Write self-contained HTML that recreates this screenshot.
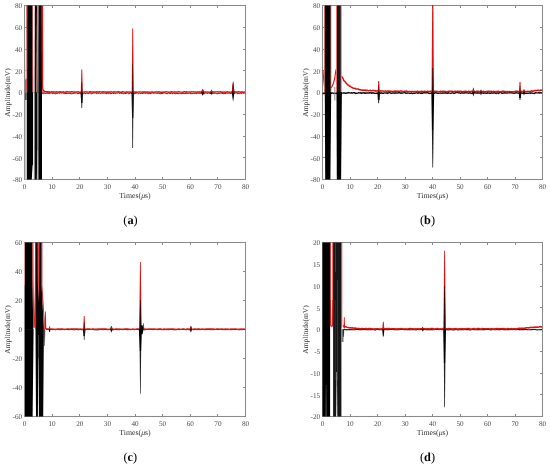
<!DOCTYPE html>
<html><head><meta charset="utf-8"><title>Figure</title>
<style>html,body{margin:0;padding:0;background:#fff;width:550px;height:467px;overflow:hidden}
svg{display:block;filter:blur(0.35px)}
text{font-family:'Liberation Serif', 'DejaVu Serif', serif;font-size:7.2px;fill:#333}
.t{fill:#4a4a4a}</style></head>
<body><svg width="550" height="467" viewBox="0 0 550 467" text-rendering="geometricPrecision">
<rect width="550" height="467" fill="#fff"/>
<defs>
<clipPath id="ca"><rect x="24" y="5" width="222" height="175"/></clipPath>
<clipPath id="cb"><rect x="322" y="5" width="221" height="175"/></clipPath>
<clipPath id="cc"><rect x="24" y="242" width="222" height="175"/></clipPath>
<clipPath id="cd"><rect x="322" y="242" width="221" height="175"/></clipPath>
</defs>
<rect x="24.5" y="5.5" width="221" height="174" fill="none" stroke="#8a8a8a" stroke-width="1.05"/>
<line x1="52.5" y1="179.5" x2="52.5" y2="177" stroke="#8a8a8a" stroke-width="1"/>
<line x1="52.5" y1="5.5" x2="52.5" y2="8" stroke="#8a8a8a" stroke-width="1"/>
<line x1="79.5" y1="179.5" x2="79.5" y2="177" stroke="#8a8a8a" stroke-width="1"/>
<line x1="79.5" y1="5.5" x2="79.5" y2="8" stroke="#8a8a8a" stroke-width="1"/>
<line x1="107.5" y1="179.5" x2="107.5" y2="177" stroke="#8a8a8a" stroke-width="1"/>
<line x1="107.5" y1="5.5" x2="107.5" y2="8" stroke="#8a8a8a" stroke-width="1"/>
<line x1="135.5" y1="179.5" x2="135.5" y2="177" stroke="#8a8a8a" stroke-width="1"/>
<line x1="135.5" y1="5.5" x2="135.5" y2="8" stroke="#8a8a8a" stroke-width="1"/>
<line x1="162.5" y1="179.5" x2="162.5" y2="177" stroke="#8a8a8a" stroke-width="1"/>
<line x1="162.5" y1="5.5" x2="162.5" y2="8" stroke="#8a8a8a" stroke-width="1"/>
<line x1="190.5" y1="179.5" x2="190.5" y2="177" stroke="#8a8a8a" stroke-width="1"/>
<line x1="190.5" y1="5.5" x2="190.5" y2="8" stroke="#8a8a8a" stroke-width="1"/>
<line x1="217.5" y1="179.5" x2="217.5" y2="177" stroke="#8a8a8a" stroke-width="1"/>
<line x1="217.5" y1="5.5" x2="217.5" y2="8" stroke="#8a8a8a" stroke-width="1"/>
<line x1="24.5" y1="27.5" x2="27" y2="27.5" stroke="#8a8a8a" stroke-width="1"/>
<line x1="245.5" y1="27.5" x2="243" y2="27.5" stroke="#8a8a8a" stroke-width="1"/>
<line x1="24.5" y1="49.5" x2="27" y2="49.5" stroke="#8a8a8a" stroke-width="1"/>
<line x1="245.5" y1="49.5" x2="243" y2="49.5" stroke="#8a8a8a" stroke-width="1"/>
<line x1="24.5" y1="70.5" x2="27" y2="70.5" stroke="#8a8a8a" stroke-width="1"/>
<line x1="245.5" y1="70.5" x2="243" y2="70.5" stroke="#8a8a8a" stroke-width="1"/>
<line x1="24.5" y1="92.5" x2="27" y2="92.5" stroke="#8a8a8a" stroke-width="1"/>
<line x1="245.5" y1="92.5" x2="243" y2="92.5" stroke="#8a8a8a" stroke-width="1"/>
<line x1="24.5" y1="114.5" x2="27" y2="114.5" stroke="#8a8a8a" stroke-width="1"/>
<line x1="245.5" y1="114.5" x2="243" y2="114.5" stroke="#8a8a8a" stroke-width="1"/>
<line x1="24.5" y1="136.5" x2="27" y2="136.5" stroke="#8a8a8a" stroke-width="1"/>
<line x1="245.5" y1="136.5" x2="243" y2="136.5" stroke="#8a8a8a" stroke-width="1"/>
<line x1="24.5" y1="157.5" x2="27" y2="157.5" stroke="#8a8a8a" stroke-width="1"/>
<line x1="245.5" y1="157.5" x2="243" y2="157.5" stroke="#8a8a8a" stroke-width="1"/>
<g clip-path="url(#ca)">
<polyline points="42,93.26 42.8,93.35 43.6,93.68 44.4,93.27 45.2,93.31 46,93.38 46.8,93.02 47.6,93.31 48.4,93.42 49.2,93.56 50,92.93 50.8,93.12 51.6,92.93 52.4,93.58 53.2,93.47 54,92.89 54.8,93.73 55.6,93.72 56.4,93.44 57.2,93.4 58,92.99 58.8,92.86 59.6,93.33 60.4,92.9 61.2,93.02 62,93.07 62.8,92.88 63.6,93.27 64.4,93.25 65.2,93.61 66,93.32 66.8,93.43 67.6,93.3 68.4,93.45 69.2,93.26 70,93.1 70.8,93.75 71.6,93.75 72.4,93.61 73.2,93.49 74,93.13 74.8,93.06 75.6,93.11 76.4,92.91 77.2,93.54 78,93.21 78.8,93.61 79.6,93.2 80.4,93.71 81.2,93.61 82,92.85 82.8,93.04 83.6,93.67 84.4,93.27 85.2,93.73 86,93.21 86.8,92.92 87.6,93.42 88.4,93.55 89.2,93.09 90,92.93 90.8,93.15 91.6,93.72 92.4,93.53 93.2,92.96 94,93.07 94.8,92.94 95.6,92.9 96.4,93.57 97.2,93.01 98,93.35 98.8,93.25 99.6,93.02 100.4,93.51 101.2,92.97 102,93.43 102.8,92.95 103.6,93.23 104.4,93.04 105.2,93.09 106,93.72 106.8,93.57 107.6,93.12 108.4,93.65 109.2,93.04 110,93.2 110.8,93.62 111.6,93.43 112.4,92.94 113.2,93.74 114,93.04 114.8,93.08 115.6,93.55 116.4,93.15 117.2,93.12 118,92.92 118.8,92.93 119.6,93.37 120.4,93.07 121.2,93.39 122,93.18 122.8,93.26 123.6,93.71 124.4,93.29 125.2,93.37 126,93.63 126.8,93.01 127.6,92.99 128.4,93.67 129.2,93.59 130,93.07 130.8,93.02 131.6,93.52 132.4,93.7 133.2,93.03 134,93.71 134.8,93.64 135.6,93.39 136.4,93.23 137.2,92.94 138,92.88 138.8,93.72 139.6,93.06 140.4,93.48 141.2,93.08 142,93.59 142.8,93.39 143.6,93.11 144.4,93.01 145.2,93.5 146,92.91 146.8,93.06 147.6,93.35 148.4,93.62 149.2,93.4 150,93.1 150.8,93.68 151.6,93.03 152.4,92.86 153.2,93.09 154,93.25 154.8,92.9 155.6,93.01 156.4,93.18 157.2,93.36 158,92.97 158.8,93.18 159.6,93.65 160.4,93.73 161.2,93.44 162,93.47 162.8,93.38 163.6,92.98 164.4,92.88 165.2,92.87 166,93.67 166.8,93.48 167.6,93.72 168.4,92.87 169.2,93.42 170,93.28 170.8,93.51 171.6,93.14 172.4,93.75 173.2,92.92 174,93.34 174.8,93.51 175.6,93.66 176.4,93.51 177.2,93.48 178,93.56 178.8,93.67 179.6,93.17 180.4,93.47 181.2,93.66 182,93.63 182.8,93.23 183.6,93.56 184.4,93.63 185.2,93.37 186,93.41 186.8,93.19 187.6,93.37 188.4,93.4 189.2,92.92 190,93.43 190.8,93.74 191.6,93.64 192.4,93.51 193.2,93.2 194,93.51 194.8,93.37 195.6,93.25 196.4,93.6 197.2,92.93 198,93.53 198.8,92.88 199.6,93.39 200.4,93.28 201.2,93.06 202,93.48 202.8,93.3 203.6,93.4 204.4,93.68 205.2,93.08 206,92.86 206.8,93.12 207.6,93.46 208.4,93.03 209.2,93 210,93.67 210.8,93.44 211.6,93.25 212.4,93.65 213.2,93.14 214,93.45 214.8,93.03 215.6,93.24 216.4,93.58 217.2,93.67 218,93.64 218.8,93.2 219.6,93.37 220.4,93.13 221.2,92.97 222,93.3 222.8,93.6 223.6,93.61 224.4,93.49 225.2,93.71 226,93.1 226.8,93 227.6,93.26 228.4,93.1 229.2,93.04 230,93.22 230.8,93.41 231.6,93.29 232.4,93.13 233.2,93.61 234,93.73 234.8,93.26 235.6,92.92 236.4,92.88 237.2,93.64 238,92.89 238.8,93.49 239.6,93.36 240.4,93.13 241.2,93.56 242,92.87 242.8,92.97 243.6,93.26 244.4,92.87 245.2,93.6" fill="none" stroke="#111" stroke-width="1.0" stroke-linejoin="round" opacity="1"/>
<polyline points="42,91.98 42.8,92.09 43.6,92.1 44.4,91.79 45.2,91.71 46,91.92 46.8,91.86 47.6,92.19 48.4,92.11 49.2,92.06 50,92.03 50.8,92.1 51.6,91.79 52.4,91.96 53.2,91.8 54,92.24 54.8,91.74 55.6,92.19 56.4,91.74 57.2,92.11 58,91.9 58.8,91.94 59.6,92.21 60.4,91.71 61.2,91.74 62,92.25 62.8,92.01 63.6,91.75 64.4,92.29 65.2,92.27 66,91.77 66.8,91.95 67.6,91.78 68.4,91.89 69.2,92.07 70,91.8 70.8,92.12 71.6,91.73 72.4,91.8 73.2,92.19 74,91.94 74.8,91.95 75.6,92.06 76.4,91.99 77.2,91.93 78,91.72 78.8,92.14 79.6,92.28 80.4,92.29 81.2,92.1 82,91.91 82.8,91.92 83.6,92.11 84.4,92.1 85.2,91.77 86,91.84 86.8,91.92 87.6,92.01 88.4,92.19 89.2,92 90,91.72 90.8,92.19 91.6,91.96 92.4,92.01 93.2,91.83 94,91.96 94.8,91.93 95.6,92.16 96.4,91.76 97.2,92.03 98,91.81 98.8,92.12 99.6,91.72 100.4,91.87 101.2,91.91 102,92.08 102.8,91.73 103.6,91.98 104.4,91.83 105.2,91.87 106,91.99 106.8,92.28 107.6,91.99 108.4,92.27 109.2,91.8 110,92.25 110.8,91.92 111.6,91.81 112.4,92.15 113.2,92.25 114,91.7 114.8,91.86 115.6,92.16 116.4,91.91 117.2,91.84 118,91.71 118.8,91.72 119.6,92.07 120.4,92.29 121.2,92.3 122,92 122.8,91.71 123.6,91.89 124.4,92.17 125.2,92.2 126,92.08 126.8,91.84 127.6,92.02 128.4,91.99 129.2,92.08 130,91.86 130.8,92.27 131.6,92.24 132.4,91.8 133.2,91.87 134,92.22 134.8,91.87 135.6,92.27 136.4,92.01 137.2,92.12 138,92.12 138.8,91.83 139.6,91.87 140.4,91.85 141.2,92.11 142,92.12 142.8,91.78 143.6,92.23 144.4,91.95 145.2,91.84 146,91.96 146.8,92.29 147.6,92.04 148.4,92.07 149.2,92.25 150,92.28 150.8,92.16 151.6,91.95 152.4,92.05 153.2,92.24 154,92.17 154.8,92.05 155.6,91.91 156.4,91.92 157.2,92.14 158,92.04 158.8,91.71 159.6,92.13 160.4,92.24 161.2,92.18 162,92.24 162.8,92.25 163.6,92.02 164.4,92.17 165.2,91.93 166,91.76 166.8,91.91 167.6,91.89 168.4,92.26 169.2,92.11 170,92.02 170.8,92.07 171.6,91.77 172.4,92.02 173.2,92.12 174,91.94 174.8,91.85 175.6,91.94 176.4,91.89 177.2,92.11 178,91.79 178.8,91.75 179.6,91.89 180.4,92.12 181.2,92.16 182,92.1 182.8,92.26 183.6,91.92 184.4,91.72 185.2,91.99 186,91.97 186.8,91.81 187.6,92.1 188.4,91.9 189.2,91.84 190,91.9 190.8,92.27 191.6,91.7 192.4,91.92 193.2,91.87 194,91.82 194.8,91.96 195.6,91.83 196.4,92.25 197.2,92 198,92.12 198.8,91.8 199.6,91.98 200.4,92.06 201.2,92.21 202,91.85 202.8,91.98 203.6,92.21 204.4,92.2 205.2,91.84 206,92.02 206.8,92.16 207.6,91.94 208.4,92.1 209.2,92.1 210,92.28 210.8,92.03 211.6,92.11 212.4,91.91 213.2,92.14 214,91.89 214.8,92 215.6,91.92 216.4,91.88 217.2,91.78 218,91.84 218.8,92.03 219.6,91.85 220.4,91.73 221.2,92.18 222,91.87 222.8,92.26 223.6,92.06 224.4,91.93 225.2,92.22 226,92.24 226.8,91.89 227.6,91.78 228.4,92.08 229.2,92.21 230,92.07 230.8,92.17 231.6,91.95 232.4,92.07 233.2,91.86 234,91.94 234.8,91.93 235.6,91.93 236.4,91.94 237.2,92.18 238,91.8 238.8,91.82 239.6,91.85 240.4,92.28 241.2,92.01 242,91.73 242.8,92.2 243.6,92.22 244.4,92.19 245.2,91.92" fill="none" stroke="#e01010" stroke-width="1.4" stroke-linejoin="round" opacity="1"/>
<polygon points="26.5,5.5 26.8,5.5 26.8,92.9 25,92.9" fill="#f6c0c0" opacity="1"/>
<polygon points="25,80 26.8,78 26.8,92.4 25,92.4" fill="#e02a2a" opacity="0.75"/>
<polygon points="26.5,5.5 27.4,5.5 27.3,92.9 26.8,92.9" fill="#b01010" opacity="1"/>
<polygon points="27.3,5.5 32.3,5.5 32.6,92.9 27.2,92.9" fill="#000" opacity="1"/>
<polygon points="32.3,5.5 32.9,5.5 33.3,92.9 32.6,92.9" fill="#a81010" opacity="1"/>
<polygon points="34.8,5.5 37,5.5 36.6,92.9 34.6,92.9" fill="#1e0404" opacity="1"/>
<polygon points="37,5.5 38.6,5.5 37.3,92.9 36.6,92.9" fill="#ec7a7a" opacity="1"/>
<polygon points="38.6,5.5 38.6,5.5 38.5,92.9 37.3,92.9" fill="#2a2a2a" opacity="1"/>
<polygon points="38.6,5.5 41.8,5.5 42,92.9 38.5,92.9" fill="#050a08" opacity="1"/>
<polygon points="41.8,5.5 42.4,5.5 42.6,92.9 42,92.9" fill="#a81010" opacity="1"/>
<polygon points="42.4,5.5 42.9,5.5 42.9,92.9 42.6,92.9" fill="#f6c8c8" opacity="1"/>
<rect x="24.9" y="92.4" width="2.1" height="87.1" fill="#c8c8c8" opacity="1"/>
<rect x="24.9" y="92.4" width="1.9" height="7.6" fill="#555" opacity="1"/>
<rect x="27" y="92.4" width="6.1" height="87.1" fill="#000" opacity="1"/>
<rect x="34.5" y="92.4" width="2.7" height="87.1" fill="#0a0a0a" opacity="1"/>
<rect x="37.2" y="92.4" width="1.4" height="87.1" fill="#707070" opacity="1"/>
<rect x="38.5" y="92.4" width="3.5" height="87.1" fill="#000" opacity="1"/>
<polygon points="32.6,165 33.2,165 33.2,179.5 31.8,179.5" fill="#fff"/>
<polygon points="37.4,150 38.0,150 38.2,179.5 36.8,179.5" fill="#bbb"/>
<polyline points="42.5,5.5 42.6,88 43.4,90.5 45,91.3 48,91.7 50,91.9" fill="none" stroke="#e01010" stroke-width="1.2" stroke-linejoin="round" opacity="1"/>
<polygon points="80.8,92.4 81.35,69.6 82.25,69.6 82.8,92.4" fill="#e01010" opacity="1"/>
<polygon points="81.1,92.9 81.5,82.14 82.1,82.14 82.5,92.9" fill="#300000" opacity="0.7"/>
<polygon points="80.6,92.4 81.15,103 82.45,103 83,92.4" fill="#000" opacity="1"/>
<polygon points="81.1,92.4 81.45,108.1 82.15,108.1 82.5,92.4" fill="#111" opacity="1"/>
<polygon points="131.7,92.4 132.25,28.6 133.15,28.6 133.7,92.4" fill="#e01010" opacity="1"/>
<polygon points="132,92.9 132.4,63.69 133,63.69 133.4,92.9" fill="#300000" opacity="0.7"/>
<polygon points="131.5,92.4 132.05,118 133.35,118 133.9,92.4" fill="#000" opacity="1"/>
<polygon points="132,92.4 132.35,148.1 133.05,148.1 133.4,92.4" fill="#111" opacity="1"/>
<polygon points="233.1,80.9 233.67,85.5 234.19,90.1 234.4,92.4 234.19,94.28 233.67,98.04 233.1,101.8 232.53,98.04 232.01,94.28 231.8,92.4 232.01,90.1 232.53,85.5" fill="#000" opacity="1"/>
<polygon points="233.1,80.9 233.58,84.7 234.02,88.5 234.2,90.4 234.02,91 233.58,92.2 233.1,93.4 232.62,92.2 232.18,91 232,90.4 232.18,88.5 232.62,84.7" fill="#e01010" opacity="1"/>
<polygon points="232.5,92.4 232.8,86 233.4,86 233.7,92.4" fill="#300000" opacity="0.8"/>
<polygon points="202.7,89 203.4,90.36 204.04,91.72 204.3,92.4 204.04,93.06 203.4,94.38 202.7,95.7 202,94.38 201.36,93.06 201.1,92.4 201.36,91.72 202,90.36" fill="#111" opacity="1"/>
<polygon points="202.7,89 203.32,89.96 203.88,90.92 204.1,91.4 203.88,91.6 203.32,92 202.7,92.4 202.08,92 201.52,91.6 201.3,91.4 201.52,90.92 202.08,89.96" fill="#e01010" opacity="1"/>
<polygon points="211.5,89.6 211.98,90.72 212.42,91.84 212.6,92.4 212.42,92.92 211.98,93.96 211.5,95 211.02,93.96 210.58,92.92 210.4,92.4 210.58,91.84 211.02,90.72" fill="#111" opacity="1"/>
<polygon points="211.5,89.6 211.9,90.32 212.26,91.04 212.4,91.4 212.26,91.6 211.9,92 211.5,92.4 211.1,92 210.74,91.6 210.6,91.4 210.74,91.04 211.1,90.32" fill="#e01010" opacity="1"/>
</g>
<text x="24.5" y="189.1" text-anchor="middle" class="t">0</text>
<text x="52.12" y="189.1" text-anchor="middle" class="t">10</text>
<text x="79.75" y="189.1" text-anchor="middle" class="t">20</text>
<text x="107.38" y="189.1" text-anchor="middle" class="t">30</text>
<text x="135" y="189.1" text-anchor="middle" class="t">40</text>
<text x="162.62" y="189.1" text-anchor="middle" class="t">50</text>
<text x="190.25" y="189.1" text-anchor="middle" class="t">60</text>
<text x="217.88" y="189.1" text-anchor="middle" class="t">70</text>
<text x="245.5" y="189.1" text-anchor="middle" class="t">80</text>
<text x="22.2" y="8.3" text-anchor="end" class="t">80</text>
<text x="22.2" y="30.05" text-anchor="end" class="t">60</text>
<text x="22.2" y="51.8" text-anchor="end" class="t">40</text>
<text x="22.2" y="73.55" text-anchor="end" class="t">20</text>
<text x="22.2" y="95.3" text-anchor="end" class="t">0</text>
<text x="22.2" y="117.05" text-anchor="end" class="t">-20</text>
<text x="22.2" y="138.8" text-anchor="end" class="t">-40</text>
<text x="22.2" y="160.55" text-anchor="end" class="t">-60</text>
<text x="22.2" y="182.3" text-anchor="end" class="t">-80</text>
<text x="135" y="198.1" text-anchor="middle" style="font-size:7.8px">Times(<tspan font-style="italic">μ</tspan>s)</text>
<text transform="translate(10.2,92.5) rotate(-90)" text-anchor="middle" style="font-size:7.5px">Amplitude(mV)</text>
<text x="130.5" y="224.1" text-anchor="middle" style="font-size:12.3px;fill:#000">(<tspan font-weight="bold">a</tspan>)</text>
<rect x="322.5" y="5.5" width="220" height="174" fill="none" stroke="#8a8a8a" stroke-width="1.05"/>
<line x1="350.5" y1="179.5" x2="350.5" y2="177" stroke="#8a8a8a" stroke-width="1"/>
<line x1="350.5" y1="5.5" x2="350.5" y2="8" stroke="#8a8a8a" stroke-width="1"/>
<line x1="377.5" y1="179.5" x2="377.5" y2="177" stroke="#8a8a8a" stroke-width="1"/>
<line x1="377.5" y1="5.5" x2="377.5" y2="8" stroke="#8a8a8a" stroke-width="1"/>
<line x1="405.5" y1="179.5" x2="405.5" y2="177" stroke="#8a8a8a" stroke-width="1"/>
<line x1="405.5" y1="5.5" x2="405.5" y2="8" stroke="#8a8a8a" stroke-width="1"/>
<line x1="432.5" y1="179.5" x2="432.5" y2="177" stroke="#8a8a8a" stroke-width="1"/>
<line x1="432.5" y1="5.5" x2="432.5" y2="8" stroke="#8a8a8a" stroke-width="1"/>
<line x1="460.5" y1="179.5" x2="460.5" y2="177" stroke="#8a8a8a" stroke-width="1"/>
<line x1="460.5" y1="5.5" x2="460.5" y2="8" stroke="#8a8a8a" stroke-width="1"/>
<line x1="487.5" y1="179.5" x2="487.5" y2="177" stroke="#8a8a8a" stroke-width="1"/>
<line x1="487.5" y1="5.5" x2="487.5" y2="8" stroke="#8a8a8a" stroke-width="1"/>
<line x1="515.5" y1="179.5" x2="515.5" y2="177" stroke="#8a8a8a" stroke-width="1"/>
<line x1="515.5" y1="5.5" x2="515.5" y2="8" stroke="#8a8a8a" stroke-width="1"/>
<line x1="322.5" y1="27.5" x2="325" y2="27.5" stroke="#8a8a8a" stroke-width="1"/>
<line x1="542.5" y1="27.5" x2="540" y2="27.5" stroke="#8a8a8a" stroke-width="1"/>
<line x1="322.5" y1="49.5" x2="325" y2="49.5" stroke="#8a8a8a" stroke-width="1"/>
<line x1="542.5" y1="49.5" x2="540" y2="49.5" stroke="#8a8a8a" stroke-width="1"/>
<line x1="322.5" y1="70.5" x2="325" y2="70.5" stroke="#8a8a8a" stroke-width="1"/>
<line x1="542.5" y1="70.5" x2="540" y2="70.5" stroke="#8a8a8a" stroke-width="1"/>
<line x1="322.5" y1="92.5" x2="325" y2="92.5" stroke="#8a8a8a" stroke-width="1"/>
<line x1="542.5" y1="92.5" x2="540" y2="92.5" stroke="#8a8a8a" stroke-width="1"/>
<line x1="322.5" y1="114.5" x2="325" y2="114.5" stroke="#8a8a8a" stroke-width="1"/>
<line x1="542.5" y1="114.5" x2="540" y2="114.5" stroke="#8a8a8a" stroke-width="1"/>
<line x1="322.5" y1="136.5" x2="325" y2="136.5" stroke="#8a8a8a" stroke-width="1"/>
<line x1="542.5" y1="136.5" x2="540" y2="136.5" stroke="#8a8a8a" stroke-width="1"/>
<line x1="322.5" y1="157.5" x2="325" y2="157.5" stroke="#8a8a8a" stroke-width="1"/>
<line x1="542.5" y1="157.5" x2="540" y2="157.5" stroke="#8a8a8a" stroke-width="1"/>
<g clip-path="url(#cb)">
<polyline points="341,92.7 341.8,93.17 342.6,93.12 343.4,92.98 344.2,92.74 345,93.26 345.8,93.28 346.6,93.01 347.4,93 348.2,92.76 349,92.55 349.8,92.88 350.6,93.08 351.4,92.61 352.2,93.26 353,92.76 353.8,92.76 354.6,92.59 355.4,93.45 356.2,93.21 357,93.34 357.8,93.1 358.6,92.58 359.4,92.85 360.2,93 361,92.65 361.8,93.41 362.6,92.88 363.4,92.69 364.2,93.29 365,92.66 365.8,93.39 366.6,92.96 367.4,93.05 368.2,92.86 369,92.99 369.8,92.72 370.6,92.58 371.4,93.33 372.2,92.76 373,93.25 373.8,92.74 374.6,93.42 375.4,93.35 376.2,93.23 377,93.24 377.8,93.07 378.6,93.21 379.4,92.66 380.2,92.98 381,93.29 381.8,92.73 382.6,93.38 383.4,93.35 384.2,92.92 385,92.88 385.8,92.96 386.6,92.9 387.4,93.45 388.2,92.9 389,92.57 389.8,92.63 390.6,93.2 391.4,93.44 392.2,93 393,92.99 393.8,93.05 394.6,93.22 395.4,92.75 396.2,93.1 397,93.05 397.8,93.11 398.6,92.71 399.4,92.7 400.2,92.86 401,93.38 401.8,92.86 402.6,93.09 403.4,92.83 404.2,92.64 405,92.61 405.8,93.28 406.6,93.25 407.4,92.89 408.2,93.17 409,93.16 409.8,93.36 410.6,93.41 411.4,92.92 412.2,93.44 413,93.42 413.8,93.08 414.6,93.34 415.4,92.99 416.2,92.89 417,92.77 417.8,93.34 418.6,92.7 419.4,92.61 420.2,93.27 421,93.25 421.8,92.98 422.6,93.3 423.4,92.6 424.2,92.78 425,92.81 425.8,92.93 426.6,92.7 427.4,92.61 428.2,92.85 429,93.36 429.8,93.44 430.6,93.22 431.4,92.98 432.2,92.78 433,93.41 433.8,93.02 434.6,93.21 435.4,92.58 436.2,92.74 437,93.3 437.8,93.27 438.6,93.34 439.4,93.09 440.2,92.93 441,93.07 441.8,93.31 442.6,92.83 443.4,93.03 444.2,92.8 445,93.24 445.8,92.56 446.6,93.17 447.4,93.41 448.2,92.57 449,93.08 449.8,93.13 450.6,93.32 451.4,93.08 452.2,92.78 453,92.92 453.8,93.41 454.6,93.37 455.4,92.67 456.2,92.64 457,92.63 457.8,92.57 458.6,92.95 459.4,92.68 460.2,93.33 461,93.14 461.8,92.66 462.6,93.03 463.4,92.84 464.2,92.99 465,92.75 465.8,92.7 466.6,92.72 467.4,92.89 468.2,93.19 469,93.05 469.8,92.59 470.6,93.19 471.4,93.34 472.2,93.25 473,93.26 473.8,92.56 474.6,92.97 475.4,92.61 476.2,93.24 477,92.71 477.8,93.19 478.6,92.78 479.4,93.18 480.2,92.83 481,92.59 481.8,92.9 482.6,92.83 483.4,93.36 484.2,92.82 485,93 485.8,93.04 486.6,93.4 487.4,92.64 488.2,93.09 489,93.01 489.8,93.21 490.6,93.42 491.4,92.83 492.2,93.18 493,93.02 493.8,93.05 494.6,92.61 495.4,93.28 496.2,93.43 497,92.87 497.8,92.84 498.6,93.44 499.4,92.65 500.2,92.62 501,92.62 501.8,93.28 502.6,93.23 503.4,92.95 504.2,93.11 505,92.57 505.8,93.13 506.6,92.95 507.4,93.02 508.2,92.9 509,92.91 509.8,92.75 510.6,92.59 511.4,92.94 512.2,92.77 513,93.18 513.8,93.29 514.6,93.2 515.4,92.96 516.2,92.76 517,92.9 517.8,92.99 518.6,93.12 519.4,93.42 520.2,92.63 521,92.98 521.8,92.99 522.6,93.2 523.4,93.35 524.2,93.25 525,93.11 525.8,93.23 526.6,93.15 527.4,93.32 528.2,93.18 529,93.16 529.8,92.77 530.6,93.38 531.4,92.9 532.2,93.1 533,93.29 533.8,93.42 534.6,93.44 535.4,92.56 536.2,92.83 537,92.83 537.8,92.9 538.6,92.68 539.4,93.05 540.2,92.62 541,92.82 541.8,93.4" fill="none" stroke="#111" stroke-width="1.4" stroke-linejoin="round" opacity="1"/>
<polyline points="341.5,76.32 342.3,77.38 343.1,78.74 343.9,80.7 344.7,81.26 345.5,82.21 346.3,83.46 347.1,84.03 347.9,85.1 348.7,85.26 349.5,86.31 350.3,86.35 351.1,86.98 351.9,87.6 352.7,87.77 353.5,88.25 354.3,88.38 355.1,88.17 355.9,88.97 356.7,88.97 357.5,88.96 358.3,89.04 359.1,89.65 359.9,89.6 360.7,89.98 361.5,89.98 362.3,90.21 363.1,90.03 363.9,90.21 364.7,90.23 365.5,90.06 366.3,90.61 367.1,90.23 367.9,90.61 368.7,90.79 369.5,90.63 370.3,90.32 371.1,90.84 371.9,90.78 372.7,90.48 373.5,90.42 374.3,90.79 375.1,90.48 375.9,91.13 376.7,90.87 377.5,90.9 378.3,90.85 379.1,91.06 379.9,91.26 380.7,90.85 381.5,90.92 382.3,91.09 383.1,90.91 383.9,91.14 384.7,91.12 385.5,91.06 386.3,91.24 387.1,91.16 387.9,90.86 388.7,91.51 389.5,91.08 390.3,91.14 391.1,91.14 391.9,91.52 392.7,91.54 393.5,91.25 394.3,91.18 395.1,90.98 395.9,91.54 396.7,91.05 397.5,91.32 398.3,91.19 399.1,91.18 399.9,91.21 400.7,91.1 401.5,91 402.3,91.36 403.1,91.55 403.9,91.45 404.7,91.14 405.5,91.49 406.3,91.05 407.1,91.31 407.9,91.6 408.7,91.67 409.5,91.36 410.3,91.63 411.1,91.39 411.9,91.41 412.7,91.46 413.5,91.75 414.3,91.58 415.1,91.39 415.9,91.57 416.7,91.52 417.5,91.32 418.3,91.62 419.1,91.65 419.9,91.51 420.7,91.81 421.5,91.16 422.3,91.5 423.1,91.59 423.9,91.39 424.7,91.27 425.5,91.63 426.3,91.45 427.1,91.34 427.9,91.18 428.7,91.83 429.5,91.4 430.3,91.23 431.1,91.3 431.9,91.33 432.7,91.76 433.5,91.28 434.3,91.34 435.1,91.22 435.9,91.48 436.7,91.3 437.5,91.39 438.3,91.66 439.1,91.8 439.9,91.73 440.7,91.18 441.5,91.41 442.3,91.74 443.1,91.17 443.9,91.29 444.7,91.49 445.5,91.42 446.3,91.68 447.1,91.65 447.9,91.48 448.7,91.32 449.5,91.31 450.3,91.34 451.1,91.2 451.9,91.62 452.7,91.26 453.5,91.77 454.3,91.6 455.1,91.19 455.9,91.5 456.7,91.57 457.5,91.18 458.3,91.49 459.1,91.17 459.9,91.69 460.7,91.15 461.5,91.59 462.3,91.84 463.1,91.74 463.9,91.31 464.7,91.52 465.5,91.25 466.3,91.39 467.1,91.75 467.9,91.72 468.7,91.16 469.5,91.42 470.3,91.6 471.1,91.27 471.9,91.71 472.7,91.78 473.5,91.54 474.3,91.4 475.1,91.74 475.9,91.51 476.7,91.28 477.5,91.34 478.3,91.26 479.1,91.74 479.9,91.51 480.7,91.64 481.5,91.72 482.3,91.83 483.1,91.28 483.9,91.43 484.7,91.76 485.5,91.68 486.3,91.42 487.1,91.61 487.9,91.29 488.7,91.26 489.5,91.19 490.3,91.42 491.1,91.32 491.9,91.51 492.7,91.83 493.5,91.26 494.3,91.54 495.1,91.76 495.9,91.57 496.7,91.52 497.5,91.69 498.3,91.17 499.1,91.81 499.9,91.63 500.7,91.71 501.5,91.73 502.3,91.22 503.1,91.2 503.9,91.27 504.7,91.5 505.5,91.81 506.3,91.79 507.1,91.44 507.9,91.59 508.7,91.67 509.5,91.38 510.3,91.83 511.1,91.81 511.9,91.66 512.7,91.78 513.5,91.71 514.3,91.61 515.1,91.37 515.9,91.35 516.7,91.32 517.5,91.19 518.3,91.8 519.1,91.36 519.9,91.17 520.7,91.37 521.5,91.22 522.3,91.46 523.1,91.38 523.9,91.27 524.7,91.48 525.5,91.44 526.3,91.4 527.1,91.71 527.9,91.28 528.7,91.38 529.5,91.54 530.3,91.52 531.1,91.04 531.9,90.74 532.7,91.3 533.5,90.92 534.3,90.65 535.1,90.51 535.9,90.52 536.7,90.49 537.5,90.3 538.3,90.17 539.1,90.76 539.9,90.56 540.7,90 541.5,90.18 542.3,90.33" fill="none" stroke="#e01010" stroke-width="1.5" stroke-linejoin="round" opacity="1"/>
<polyline points="322.5,93.64 323.3,93.66 324.1,93.61 324.9,92.97 325.7,93.37 326.5,93.24 327.3,93.32 328.1,93 328.9,93.05 329.7,93.26 330.5,93.08 331.3,93.26 332.1,92.92 332.9,92.97 333.7,93.47 334.5,93.24 335.3,93.31 336.1,93.49 336.9,93.19 337.7,92.95 338.5,93.53 339.3,93.37 340.1,93.43 340.9,93.4" fill="none" stroke="#111" stroke-width="1.4" stroke-linejoin="round" opacity="1"/>
<polyline points="323,70 323.3,74 323.7,80 324.3,86 325,89" fill="none" stroke="#e02020" stroke-width="1.0" stroke-linejoin="round" opacity="1"/>
<polyline points="330.8,88 332,86.5 333.5,83 334.8,78 335.6,72 336.2,69" fill="none" stroke="#e01010" stroke-width="1.1" stroke-linejoin="round" opacity="1"/>
<rect x="334.2" y="87" width="1.2" height="13.5" fill="#8a8a8a" opacity="0.8"/>
<rect x="324" y="5.5" width="1" height="86.9" fill="#e47070" opacity="1"/>
<rect x="324.9" y="5.5" width="5.8" height="86.9" fill="#000" opacity="1"/>
<rect x="330.7" y="5.5" width="0.5" height="86.9" fill="#990000" opacity="1"/>
<rect x="336" y="5.5" width="1" height="86.9" fill="#e47070" opacity="1"/>
<rect x="337" y="5.5" width="3.8" height="86.9" fill="#161616" opacity="1"/>
<rect x="340.8" y="5.5" width="0.7" height="86.9" fill="#990000" opacity="1"/>
<rect x="341.5" y="5.5" width="0.5" height="86.9" fill="#f4c0c0" opacity="1"/>
<polygon points="324.8,92.1 331.2,92.1 330.4,179.5 325.2,179.5" fill="#000"/>
<polygon points="336.5,92.1 341.9,92.1 341.1,179.5 336.8,179.5" fill="#000"/>
<polygon points="377.7,92.4 378.2,80.9 379.2,80.9 379.7,92.4" fill="#e01010" opacity="1"/>
<polygon points="378.1,92.9 378.4,85.5 379,85.5 379.3,92.9" fill="#300000" opacity="0.6"/>
<polygon points="377.4,92.4 377.9,100 379.5,100 380,92.4" fill="#000" opacity="1"/>
<polygon points="377.9,92.4 378.3,103.3 379.1,103.3 379.5,92.4" fill="#111" opacity="1"/>
<polygon points="519,92.4 519.5,82 520.5,82 521,92.4" fill="#e01010" opacity="1"/>
<polygon points="519.4,92.9 519.7,86.16 520.3,86.16 520.6,92.9" fill="#300000" opacity="0.6"/>
<polygon points="518.7,92.4 519.2,98 520.8,98 521.3,92.4" fill="#000" opacity="1"/>
<polygon points="519.2,92.4 519.6,100 520.4,100 520.8,92.4" fill="#111" opacity="1"/>
<polygon points="431.55,92.4 432.15,4 433.35,4 433.95,92.4" fill="#e01010" opacity="1"/>
<polygon points="431.95,92.9 432.4,68 433.1,68 433.55,92.9" fill="#1a0000" opacity="0.8"/>
<polygon points="431.35,92.4 431.9,130 433.6,130 434.15,92.4" fill="#000" opacity="1"/>
<polygon points="431.9,130 432.4,167.6 433.1,167.6 433.6,130" fill="#1a1a1a" opacity="1"/>
<polygon points="473.4,87.4 473.93,89.4 474.41,91.4 474.6,92.4 474.41,93.2 473.93,94.8 473.4,96.4 472.87,94.8 472.39,93.2 472.2,92.4 472.39,91.4 472.87,89.4" fill="#111" opacity="1"/>
<polygon points="473.4,87.4 473.84,88.8 474.24,90.2 474.4,90.9 474.24,91.2 473.84,91.8 473.4,92.4 472.96,91.8 472.56,91.2 472.4,90.9 472.56,90.2 472.96,88.8" fill="#e01010" opacity="1"/>
<polygon points="481,89.4 481.44,90.6 481.84,91.8 482,92.4 481.84,93 481.44,94.2 481,95.4 480.56,94.2 480.16,93 480,92.4 480.16,91.8 480.56,90.6" fill="#111" opacity="1"/>
<polygon points="481,89.4 481.4,90.2 481.76,91 481.9,91.4 481.76,91.6 481.4,92 481,92.4 480.6,92 480.24,91.6 480.1,91.4 480.24,91 480.6,90.2" fill="#e01010" opacity="1"/>
<polygon points="524,88.9 524.44,90.3 524.84,91.7 525,92.4 524.84,93 524.44,94.2 524,95.4 523.56,94.2 523.16,93 523,92.4 523.16,91.7 523.56,90.3" fill="#111" opacity="1"/>
<polygon points="524,88.9 524.4,89.9 524.76,90.9 524.9,91.4 524.76,91.6 524.4,92 524,92.4 523.6,92 523.24,91.6 523.1,91.4 523.24,90.9 523.6,89.9" fill="#e01010" opacity="1"/>
</g>
<text x="322.5" y="189.1" text-anchor="middle" class="t">0</text>
<text x="350" y="189.1" text-anchor="middle" class="t">10</text>
<text x="377.5" y="189.1" text-anchor="middle" class="t">20</text>
<text x="405" y="189.1" text-anchor="middle" class="t">30</text>
<text x="432.5" y="189.1" text-anchor="middle" class="t">40</text>
<text x="460" y="189.1" text-anchor="middle" class="t">50</text>
<text x="487.5" y="189.1" text-anchor="middle" class="t">60</text>
<text x="515" y="189.1" text-anchor="middle" class="t">70</text>
<text x="542.5" y="189.1" text-anchor="middle" class="t">80</text>
<text x="320.2" y="8.3" text-anchor="end" class="t">80</text>
<text x="320.2" y="30.05" text-anchor="end" class="t">60</text>
<text x="320.2" y="51.8" text-anchor="end" class="t">40</text>
<text x="320.2" y="73.55" text-anchor="end" class="t">20</text>
<text x="320.2" y="95.3" text-anchor="end" class="t">0</text>
<text x="320.2" y="117.05" text-anchor="end" class="t">-20</text>
<text x="320.2" y="138.8" text-anchor="end" class="t">-40</text>
<text x="320.2" y="160.55" text-anchor="end" class="t">-60</text>
<text x="320.2" y="182.3" text-anchor="end" class="t">-80</text>
<text x="432.5" y="198.1" text-anchor="middle" style="font-size:7.8px">Times(<tspan font-style="italic">μ</tspan>s)</text>
<text transform="translate(308.2,92.5) rotate(-90)" text-anchor="middle" style="font-size:7.5px">Amplitude(mV)</text>
<text x="427.5" y="224.1" text-anchor="middle" style="font-size:12.3px;fill:#000">(<tspan font-weight="bold">b</tspan>)</text>
<rect x="24.5" y="242.5" width="221" height="174" fill="none" stroke="#8a8a8a" stroke-width="1.05"/>
<line x1="52.5" y1="416.5" x2="52.5" y2="414" stroke="#8a8a8a" stroke-width="1"/>
<line x1="52.5" y1="242.5" x2="52.5" y2="245" stroke="#8a8a8a" stroke-width="1"/>
<line x1="79.5" y1="416.5" x2="79.5" y2="414" stroke="#8a8a8a" stroke-width="1"/>
<line x1="79.5" y1="242.5" x2="79.5" y2="245" stroke="#8a8a8a" stroke-width="1"/>
<line x1="107.5" y1="416.5" x2="107.5" y2="414" stroke="#8a8a8a" stroke-width="1"/>
<line x1="107.5" y1="242.5" x2="107.5" y2="245" stroke="#8a8a8a" stroke-width="1"/>
<line x1="135.5" y1="416.5" x2="135.5" y2="414" stroke="#8a8a8a" stroke-width="1"/>
<line x1="135.5" y1="242.5" x2="135.5" y2="245" stroke="#8a8a8a" stroke-width="1"/>
<line x1="162.5" y1="416.5" x2="162.5" y2="414" stroke="#8a8a8a" stroke-width="1"/>
<line x1="162.5" y1="242.5" x2="162.5" y2="245" stroke="#8a8a8a" stroke-width="1"/>
<line x1="190.5" y1="416.5" x2="190.5" y2="414" stroke="#8a8a8a" stroke-width="1"/>
<line x1="190.5" y1="242.5" x2="190.5" y2="245" stroke="#8a8a8a" stroke-width="1"/>
<line x1="217.5" y1="416.5" x2="217.5" y2="414" stroke="#8a8a8a" stroke-width="1"/>
<line x1="217.5" y1="242.5" x2="217.5" y2="245" stroke="#8a8a8a" stroke-width="1"/>
<line x1="24.5" y1="271.5" x2="27" y2="271.5" stroke="#8a8a8a" stroke-width="1"/>
<line x1="245.5" y1="271.5" x2="243" y2="271.5" stroke="#8a8a8a" stroke-width="1"/>
<line x1="24.5" y1="300.5" x2="27" y2="300.5" stroke="#8a8a8a" stroke-width="1"/>
<line x1="245.5" y1="300.5" x2="243" y2="300.5" stroke="#8a8a8a" stroke-width="1"/>
<line x1="24.5" y1="329.5" x2="27" y2="329.5" stroke="#8a8a8a" stroke-width="1"/>
<line x1="245.5" y1="329.5" x2="243" y2="329.5" stroke="#8a8a8a" stroke-width="1"/>
<line x1="24.5" y1="358.5" x2="27" y2="358.5" stroke="#8a8a8a" stroke-width="1"/>
<line x1="245.5" y1="358.5" x2="243" y2="358.5" stroke="#8a8a8a" stroke-width="1"/>
<line x1="24.5" y1="387.5" x2="27" y2="387.5" stroke="#8a8a8a" stroke-width="1"/>
<line x1="245.5" y1="387.5" x2="243" y2="387.5" stroke="#8a8a8a" stroke-width="1"/>
<g clip-path="url(#cc)">
<polyline points="46,329.36 47,329.41 48,329.55 49,329.69 50,329.42 51,329.41 52,329.47 53,329.73 54,329.42 55,329.72 56,329.68 57,329.42 58,329.62 59,329.57 60,329.56 61,329.85 62,329.4 63,329.36 64,329.82 65,329.55 66,329.45 67,329.52 68,329.53 69,329.83 70,329.46 71,329.46 72,329.64 73,329.62 74,329.83 75,329.77 76,329.53 77,329.45 78,329.77 79,329.84 80,329.37 81,329.72 82,329.78 83,329.68 84,329.46 85,329.75 86,329.71 87,329.45 88,329.67 89,329.46 90,329.37 91,329.52 92,329.52 93,329.55 94,329.67 95,329.77 96,329.83 97,329.84 98,329.85 99,329.74 100,329.5 101,329.44 102,329.66 103,329.62 104,329.69 105,329.4 106,329.45 107,329.81 108,329.65 109,329.7 110,329.4 111,329.55 112,329.81 113,329.67 114,329.85 115,329.45 116,329.58 117,329.75 118,329.57 119,329.74 120,329.63 121,329.41 122,329.4 123,329.84 124,329.41 125,329.45 126,329.52 127,329.71 128,329.78 129,329.59 130,329.6 131,329.74 132,329.49 133,329.54 134,329.66 135,329.67 136,329.37 137,329.41 138,329.42 139,329.71 140,329.7 141,329.84 142,329.73 143,329.48 144,329.73 145,329.84 146,329.52 147,329.36 148,329.54 149,329.49 150,329.44 151,329.37 152,329.41 153,329.78 154,329.37 155,329.66 156,329.45 157,329.45 158,329.76 159,329.5 160,329.44 161,329.58 162,329.7 163,329.61 164,329.78 165,329.55 166,329.61 167,329.71 168,329.58 169,329.71 170,329.58 171,329.42 172,329.41 173,329.74 174,329.72 175,329.82 176,329.7 177,329.64 178,329.43 179,329.78 180,329.41 181,329.56 182,329.42 183,329.54 184,329.5 185,329.56 186,329.71 187,329.62 188,329.47 189,329.74 190,329.72 191,329.76 192,329.37 193,329.66 194,329.8 195,329.48 196,329.45 197,329.76 198,329.53 199,329.55 200,329.76 201,329.54 202,329.45 203,329.46 204,329.52 205,329.7 206,329.53 207,329.74 208,329.38 209,329.47 210,329.66 211,329.59 212,329.6 213,329.82 214,329.49 215,329.44 216,329.37 217,329.59 218,329.5 219,329.59 220,329.35 221,329.35 222,329.54 223,329.73 224,329.5 225,329.81 226,329.64 227,329.55 228,329.74 229,329.47 230,329.65 231,329.77 232,329.62 233,329.51 234,329.4 235,329.64 236,329.44 237,329.54 238,329.62 239,329.82 240,329.69 241,329.61 242,329.78 243,329.5 244,329.54 245,329.69" fill="none" stroke="#222" stroke-width="1.0" stroke-linejoin="round" opacity="1"/>
<polyline points="46,328.89 47,328.96 48,329 49,329.3 50,329.1 51,329.21 52,328.9 53,329.1 54,329.27 55,329.11 56,329.32 57,329.29 58,329.04 59,328.85 60,329.23 61,328.91 62,328.85 63,329.22 64,329.27 65,329.27 66,329.33 67,328.95 68,328.89 69,328.91 70,329.34 71,328.91 72,328.93 73,328.86 74,328.87 75,328.87 76,329.03 77,328.93 78,329 79,329.31 80,328.93 81,329.26 82,329.22 83,329.13 84,329.14 85,329.24 86,329.14 87,328.96 88,329.01 89,328.97 90,329.05 91,329.34 92,329.06 93,328.88 94,329.09 95,329.26 96,329.07 97,329.2 98,328.9 99,328.88 100,329.18 101,328.87 102,329 103,329.04 104,328.95 105,328.87 106,328.85 107,329.33 108,329.19 109,329.33 110,329.1 111,329.33 112,329.28 113,329.16 114,329.11 115,329.1 116,328.96 117,329.04 118,329.21 119,328.95 120,329.27 121,329.1 122,329.15 123,329.26 124,329.17 125,328.92 126,328.97 127,328.85 128,328.86 129,329.33 130,329.15 131,329.33 132,329.24 133,329.01 134,329.33 135,329.31 136,329.08 137,328.89 138,329.01 139,328.93 140,329.03 141,328.89 142,329.21 143,329.34 144,328.96 145,329.24 146,329.14 147,329.09 148,329.3 149,329.04 150,329.26 151,328.87 152,329.33 153,328.94 154,328.85 155,329.29 156,329.21 157,329.19 158,329.23 159,329.04 160,328.91 161,329.01 162,329.33 163,329.34 164,328.97 165,329.07 166,329.08 167,329.3 168,328.85 169,329.26 170,328.98 171,329.12 172,328.91 173,328.89 174,329.29 175,329.1 176,329.34 177,329.28 178,329.23 179,328.89 180,329.14 181,329.35 182,329.1 183,328.88 184,328.94 185,329.34 186,329.34 187,328.97 188,329.01 189,329.21 190,329.1 191,328.94 192,329.34 193,329.16 194,329.03 195,328.86 196,329.11 197,329.23 198,328.94 199,328.89 200,329.21 201,329.31 202,329.04 203,329.09 204,329.17 205,329.11 206,328.91 207,328.99 208,328.95 209,328.95 210,328.89 211,329.05 212,328.96 213,329.27 214,329.01 215,329.33 216,329.26 217,328.98 218,328.93 219,329.14 220,329.09 221,329.12 222,328.91 223,329.12 224,329.23 225,329.07 226,328.98 227,329.31 228,329 229,329.35 230,329.19 231,328.85 232,329.07 233,328.92 234,329.24 235,329.06 236,328.89 237,329.33 238,329.25 239,329.15 240,329.13 241,328.89 242,329.34 243,329 244,329.11 245,329.1" fill="none" stroke="#d41818" stroke-width="1.4" stroke-linejoin="round" opacity="1"/>
<rect x="24.3" y="242.5" width="0.7" height="42.5" fill="#f0a0a0" opacity="1"/>
<polygon points="25,242.5 32.4,242.5 32.5,280 33.3,329.8 25,329.8" fill="#000"/>
<polygon points="25,329.2 33.6,329.2 32.6,416.5 25,416.5" fill="#000"/>
<polygon points="35.5,242.5 36.3,242.5 37.5,242.5 39.5,242.5 41.6,242.5 41.6,285 43.9,329.2 43.2,416.5 36,416.5 35.5,329.2" fill="#050505"/>
<polygon points="37.5,242.5 39.5,242.5 39.3,282 38.4,303 37.7,282" fill="#e04040"/>
<polyline points="41.9,242.5 41.9,285 44.1,320 44.1,329.2" fill="none" stroke="#c01010" stroke-width="0.9"/>
<polyline points="35.7,242.5 35.7,329.2" fill="none" stroke="#a00000" stroke-width="0.7"/>
<polygon points="38.3,358 38.7,358 38.9,416.5 37.9,416.5" fill="#fff"/>
<rect x="38" y="335" width="0.9" height="23" fill="#444" opacity="1"/>
<polyline points="32.95,242.5 33.05,280 33.75,327.5 34.3,327.5 35.3,290 35.6,242.5" fill="none" stroke="#e01010" stroke-width="0.9" stroke-linejoin="round" opacity="1"/>
<polygon points="44.5,329.2 45,311.6 45.8,311.6 46.3,329.2" fill="#e01010" opacity="1"/>
<polygon points="43.9,329.2 44.3,346 44.9,346 45.3,329.2" fill="#555" opacity="1"/>
<polygon points="43.1,329.2 43.4,338 44.2,338 44.5,329.2" fill="#333" opacity="1"/>
<polygon points="48.8,329.2 49.2,326.3 50,326.3 50.4,329.2" fill="#e01010" opacity="1"/>
<polygon points="48.8,329.2 49.2,332 50,332 50.4,329.2" fill="#000" opacity="1"/>
<polygon points="83.2,329.2 83.8,316 84.6,316 85.2,329.2" fill="#d81010" opacity="1"/>
<polygon points="83.6,329.7 83.9,322.6 84.5,322.6 84.8,329.7" fill="#300000" opacity="0.7"/>
<polygon points="82.9,329.2 83.5,336 84.9,336 85.5,329.2" fill="#000" opacity="1"/>
<polygon points="83.5,329.2 83.9,340 84.5,340 84.9,329.2" fill="#222" opacity="1"/>
<polygon points="139.2,329.2 140,262 140.8,262 141.6,329.2" fill="#d81010" opacity="1"/>
<polygon points="139.5,329.7 140.1,300 140.7,300 141.3,329.7" fill="#1a0000" opacity="0.85"/>
<polygon points="138.9,329.2 139.6,351 141.2,351 141.9,329.2" fill="#000" opacity="1"/>
<polygon points="139.65,351 140.1,393.8 140.7,393.8 141.15,351" fill="#222" opacity="1"/>
<polygon points="142.7,329.2 143.2,323.2 143.8,323.2 144.3,329.2" fill="#d01010" opacity="1"/>
<polygon points="140.05,329.2 141.05,325.2 142.55,325.2 143.55,329.2" fill="#000" opacity="1"/>
<polygon points="140.05,329.2 141.05,334.2 142.55,334.2 143.55,329.2" fill="#000" opacity="1"/>
<polygon points="111.4,325.7 111.93,327.1 112.41,328.5 112.6,329.2 112.41,329.9 111.93,331.3 111.4,332.7 110.87,331.3 110.39,329.9 110.2,329.2 110.39,328.5 110.87,327.1" fill="#111" opacity="1"/>
<polygon points="111.4,325.7 111.84,326.7 112.24,327.7 112.4,328.2 112.24,328.4 111.84,328.8 111.4,329.2 110.96,328.8 110.56,328.4 110.4,328.2 110.56,327.7 110.96,326.7" fill="#d01010" opacity="1"/>
<polygon points="190.9,325.7 191.43,327.1 191.91,328.5 192.1,329.2 191.91,329.9 191.43,331.3 190.9,332.7 190.37,331.3 189.89,329.9 189.7,329.2 189.89,328.5 190.37,327.1" fill="#111" opacity="1"/>
<polygon points="190.9,325.7 191.34,326.7 191.74,327.7 191.9,328.2 191.74,328.4 191.34,328.8 190.9,329.2 190.46,328.8 190.06,328.4 189.9,328.2 190.06,327.7 190.46,326.7" fill="#d01010" opacity="1"/>
</g>
<text x="24.5" y="426.1" text-anchor="middle" class="t">0</text>
<text x="52.12" y="426.1" text-anchor="middle" class="t">10</text>
<text x="79.75" y="426.1" text-anchor="middle" class="t">20</text>
<text x="107.38" y="426.1" text-anchor="middle" class="t">30</text>
<text x="135" y="426.1" text-anchor="middle" class="t">40</text>
<text x="162.62" y="426.1" text-anchor="middle" class="t">50</text>
<text x="190.25" y="426.1" text-anchor="middle" class="t">60</text>
<text x="217.88" y="426.1" text-anchor="middle" class="t">70</text>
<text x="245.5" y="426.1" text-anchor="middle" class="t">80</text>
<text x="22.2" y="245.3" text-anchor="end" class="t">60</text>
<text x="22.2" y="274.3" text-anchor="end" class="t">40</text>
<text x="22.2" y="303.3" text-anchor="end" class="t">20</text>
<text x="22.2" y="332.3" text-anchor="end" class="t">0</text>
<text x="22.2" y="361.3" text-anchor="end" class="t">-20</text>
<text x="22.2" y="390.3" text-anchor="end" class="t">-40</text>
<text x="22.2" y="419.3" text-anchor="end" class="t">-60</text>
<text x="135" y="435.1" text-anchor="middle" style="font-size:7.8px">Times(<tspan font-style="italic">μ</tspan>s)</text>
<text transform="translate(10.2,329.5) rotate(-90)" text-anchor="middle" style="font-size:7.5px">Amplitude(mV)</text>
<text x="130.3" y="461.1" text-anchor="middle" style="font-size:12.3px;fill:#000">(<tspan font-weight="bold">c</tspan>)</text>
<rect x="322.5" y="242.5" width="220" height="174" fill="none" stroke="#8a8a8a" stroke-width="1.05"/>
<line x1="350.5" y1="416.5" x2="350.5" y2="414" stroke="#8a8a8a" stroke-width="1"/>
<line x1="350.5" y1="242.5" x2="350.5" y2="245" stroke="#8a8a8a" stroke-width="1"/>
<line x1="377.5" y1="416.5" x2="377.5" y2="414" stroke="#8a8a8a" stroke-width="1"/>
<line x1="377.5" y1="242.5" x2="377.5" y2="245" stroke="#8a8a8a" stroke-width="1"/>
<line x1="405.5" y1="416.5" x2="405.5" y2="414" stroke="#8a8a8a" stroke-width="1"/>
<line x1="405.5" y1="242.5" x2="405.5" y2="245" stroke="#8a8a8a" stroke-width="1"/>
<line x1="432.5" y1="416.5" x2="432.5" y2="414" stroke="#8a8a8a" stroke-width="1"/>
<line x1="432.5" y1="242.5" x2="432.5" y2="245" stroke="#8a8a8a" stroke-width="1"/>
<line x1="460.5" y1="416.5" x2="460.5" y2="414" stroke="#8a8a8a" stroke-width="1"/>
<line x1="460.5" y1="242.5" x2="460.5" y2="245" stroke="#8a8a8a" stroke-width="1"/>
<line x1="487.5" y1="416.5" x2="487.5" y2="414" stroke="#8a8a8a" stroke-width="1"/>
<line x1="487.5" y1="242.5" x2="487.5" y2="245" stroke="#8a8a8a" stroke-width="1"/>
<line x1="515.5" y1="416.5" x2="515.5" y2="414" stroke="#8a8a8a" stroke-width="1"/>
<line x1="515.5" y1="242.5" x2="515.5" y2="245" stroke="#8a8a8a" stroke-width="1"/>
<line x1="322.5" y1="264.5" x2="325" y2="264.5" stroke="#8a8a8a" stroke-width="1"/>
<line x1="542.5" y1="264.5" x2="540" y2="264.5" stroke="#8a8a8a" stroke-width="1"/>
<line x1="322.5" y1="286.5" x2="325" y2="286.5" stroke="#8a8a8a" stroke-width="1"/>
<line x1="542.5" y1="286.5" x2="540" y2="286.5" stroke="#8a8a8a" stroke-width="1"/>
<line x1="322.5" y1="307.5" x2="325" y2="307.5" stroke="#8a8a8a" stroke-width="1"/>
<line x1="542.5" y1="307.5" x2="540" y2="307.5" stroke="#8a8a8a" stroke-width="1"/>
<line x1="322.5" y1="329.5" x2="325" y2="329.5" stroke="#8a8a8a" stroke-width="1"/>
<line x1="542.5" y1="329.5" x2="540" y2="329.5" stroke="#8a8a8a" stroke-width="1"/>
<line x1="322.5" y1="351.5" x2="325" y2="351.5" stroke="#8a8a8a" stroke-width="1"/>
<line x1="542.5" y1="351.5" x2="540" y2="351.5" stroke="#8a8a8a" stroke-width="1"/>
<line x1="322.5" y1="373.5" x2="325" y2="373.5" stroke="#8a8a8a" stroke-width="1"/>
<line x1="542.5" y1="373.5" x2="540" y2="373.5" stroke="#8a8a8a" stroke-width="1"/>
<line x1="322.5" y1="394.5" x2="325" y2="394.5" stroke="#8a8a8a" stroke-width="1"/>
<line x1="542.5" y1="394.5" x2="540" y2="394.5" stroke="#8a8a8a" stroke-width="1"/>
<g clip-path="url(#cd)">
<polyline points="343,329.53 344,329.44 345,329.4 346,329.85 347,329.65 348,329.71 349,329.63 350,329.53 351,329.74 352,329.65 353,329.77 354,329.7 355,329.8 356,329.56 357,329.39 358,329.39 359,329.73 360,329.4 361,329.69 362,329.67 363,329.34 364,329.77 365,329.32 366,329.82 367,329.8 368,329.43 369,329.74 370,329.74 371,329.38 372,329.7 373,329.37 374,329.85 375,329.71 376,329.89 377,329.33 378,329.49 379,329.67 380,329.66 381,329.41 382,329.83 383,329.81 384,329.48 385,329.39 386,329.7 387,329.54 388,329.7 389,329.6 390,329.54 391,329.31 392,329.38 393,329.58 394,329.74 395,329.56 396,329.75 397,329.62 398,329.83 399,329.69 400,329.49 401,329.38 402,329.34 403,329.32 404,329.82 405,329.82 406,329.75 407,329.37 408,329.7 409,329.38 410,329.83 411,329.69 412,329.75 413,329.67 414,329.55 415,329.81 416,329.88 417,329.45 418,329.56 419,329.74 420,329.71 421,329.55 422,329.57 423,329.88 424,329.47 425,329.43 426,329.71 427,329.47 428,329.84 429,329.5 430,329.85 431,329.53 432,329.83 433,329.75 434,329.74 435,329.43 436,329.4 437,329.32 438,329.41 439,329.7 440,329.34 441,329.44 442,329.64 443,329.39 444,329.5 445,329.44 446,329.71 447,329.37 448,329.9 449,329.66 450,329.73 451,329.63 452,329.6 453,329.88 454,329.84 455,329.79 456,329.32 457,329.65 458,329.87 459,329.68 460,329.61 461,329.69 462,329.41 463,329.74 464,329.77 465,329.34 466,329.61 467,329.66 468,329.51 469,329.71 470,329.85 471,329.84 472,329.48 473,329.39 474,329.81 475,329.67 476,329.8 477,329.82 478,329.47 479,329.65 480,329.48 481,329.78 482,329.71 483,329.44 484,329.6 485,329.66 486,329.44 487,329.41 488,329.58 489,329.34 490,329.6 491,329.86 492,329.8 493,329.33 494,329.8 495,329.73 496,329.72 497,329.32 498,329.76 499,329.42 500,329.78 501,329.49 502,329.52 503,329.4 504,329.82 505,329.43 506,329.82 507,329.61 508,329.39 509,329.69 510,329.62 511,329.32 512,329.79 513,329.46 514,329.31 515,329.76 516,329.74 517,329.53 518,329.41 519,329.62 520,329.65 521,329.71 522,329.59 523,329.64 524,329.73 525,329.41 526,329.41 527,329.59 528,329.75 529,329.78 530,329.81 531,329.56 532,329.73 533,329.36 534,329.53 535,329.34 536,329.8 537,329.9 538,329.7 539,329.75 540,329.52 541,329.78 542,329.35" fill="none" stroke="#1a1a1a" stroke-width="1.1" stroke-linejoin="round" opacity="1"/>
<polyline points="343,325.81 344,325.92 345,326.47 346,326.77 347,327.37 348,327.57 349,327.91 350,327.6 351,327.94 352,327.83 353,328.05 354,328.31 355,328.1 356,328.27 357,328.59 358,328.57 359,328.42 360,328.67 361,328.83 362,328.37 363,328.87 364,328.83 365,328.63 366,328.53 367,329.02 368,328.65 369,328.52 370,328.52 371,328.98 372,328.86 373,328.98 374,328.94 375,328.82 376,329.08 377,328.73 378,328.83 379,329 380,328.87 381,329.02 382,328.85 383,328.92 384,328.53 385,328.64 386,328.67 387,328.55 388,328.64 389,328.56 390,328.67 391,328.88 392,328.72 393,328.72 394,328.63 395,328.66 396,329.06 397,328.89 398,328.87 399,328.6 400,328.94 401,328.6 402,328.73 403,329.09 404,328.88 405,328.83 406,328.91 407,329.01 408,328.97 409,328.64 410,328.52 411,328.69 412,328.66 413,328.63 414,329.07 415,329.03 416,328.69 417,328.89 418,328.74 419,329.05 420,328.78 421,328.66 422,328.65 423,328.84 424,328.66 425,328.85 426,329.04 427,328.74 428,328.63 429,329.1 430,328.81 431,328.55 432,328.53 433,328.57 434,328.88 435,328.98 436,328.75 437,328.54 438,328.73 439,329.1 440,328.82 441,329.08 442,329.02 443,328.51 444,328.93 445,328.91 446,328.82 447,328.66 448,328.88 449,328.57 450,328.76 451,328.77 452,329.07 453,329.03 454,328.66 455,328.8 456,328.61 457,329.05 458,329.02 459,328.68 460,328.88 461,328.87 462,328.59 463,328.96 464,328.82 465,328.97 466,328.82 467,328.5 468,328.69 469,328.51 470,329.06 471,329.03 472,329 473,328.68 474,328.53 475,329.03 476,329.07 477,328.55 478,328.79 479,328.54 480,328.96 481,328.96 482,328.58 483,328.79 484,328.83 485,328.66 486,329.02 487,328.75 488,328.63 489,328.82 490,328.94 491,328.62 492,328.69 493,329.1 494,328.89 495,328.76 496,328.81 497,328.57 498,328.63 499,328.7 500,328.85 501,328.64 502,328.63 503,328.54 504,328.88 505,328.64 506,329.04 507,329.02 508,328.54 509,328.64 510,328.9 511,328.63 512,328.58 513,329.06 514,328.84 515,328.78 516,328.89 517,328.82 518,328.37 519,328.24 520,328.36 521,328.27 522,328.22 523,328.3 524,328.18 525,328.29 526,327.68 527,327.78 528,327.66 529,327.9 530,327.45 531,327.33 532,327.41 533,327.31 534,327.15 535,327.05 536,327.37 537,327.01 538,327.18 539,326.91 540,326.53 541,327.02 542,326.84" fill="none" stroke="#e01010" stroke-width="1.5" stroke-linejoin="round" opacity="1"/>
<rect x="322.5" y="242.5" width="7.6" height="174" fill="#000" opacity="1"/>
<rect x="330.1" y="242.5" width="0.8" height="83.8" fill="#d01010" opacity="1"/>
<rect x="332.4" y="242.5" width="0.8" height="83.8" fill="#d01010" opacity="1"/>
<rect x="333.1" y="242.5" width="8.3" height="174" fill="#161616" opacity="1"/>
<rect x="335.2" y="242.5" width="0.8" height="29.5" fill="#d01010" opacity="1"/>
<rect x="337.3" y="280" width="0.7" height="100" fill="#4a4a4a" opacity="1"/>
<rect x="334.8" y="300" width="0.7" height="80" fill="#3a3a3a" opacity="1"/>
<rect x="341.4" y="329.3" width="2.1" height="12.7" fill="#777" opacity="1"/>
<rect x="341.5" y="242.5" width="0.7" height="84.8" fill="#d01010" opacity="1"/>
<polyline points="330.5,300 330.9,324 331.4,326.6 332.1,326.6 332.6,324 332.8,300" fill="none" stroke="#d01010" stroke-width="0.9" stroke-linejoin="round" opacity="1"/>
<polygon points="343.5,328.3 343.95,317 344.65,317 345.1,328.3" fill="#e01010" opacity="1"/>
<polygon points="342.7,329.3 343.2,337 343.8,337 344.3,329.3" fill="#333" opacity="1"/>
<polygon points="336.6,372 337.0,372 337.3,416.5 336.2,416.5" fill="#fff"/>
<polygon points="325.9,385 326.2,385 326.4,416.5 325.7,416.5" fill="#888"/>
<polygon points="382.3,329.3 382.9,321.8 383.7,321.8 384.3,329.3" fill="#d81010" opacity="1"/>
<polygon points="382.2,329.3 382.9,336.4 383.7,336.4 384.4,329.3" fill="#000" opacity="1"/>
<polygon points="443.4,329.3 444.2,250.8 445,250.8 445.8,329.3" fill="#d81010" opacity="1"/>
<polygon points="443.8,329.8 444.3,286 444.9,286 445.4,329.8" fill="#1a0000" opacity="0.85"/>
<polygon points="443.2,329.3 443.8,363 445.4,363 446,329.3" fill="#000" opacity="1"/>
<polygon points="443.85,363 444.25,407.3 444.95,407.3 445.35,363" fill="#222" opacity="1"/>
<polygon points="422.7,326.8 423.14,327.8 423.54,328.8 423.7,329.3 423.54,329.8 423.14,330.8 422.7,331.8 422.26,330.8 421.86,329.8 421.7,329.3 421.86,328.8 422.26,327.8" fill="#111" opacity="1"/>
<polygon points="422.7,326.8 423.1,327.4 423.46,328 423.6,328.3 423.46,328.5 423.1,328.9 422.7,329.3 422.3,328.9 421.94,328.5 421.8,328.3 421.94,328 422.3,327.4" fill="#d01010" opacity="1"/>
</g>
<text x="322.5" y="426.1" text-anchor="middle" class="t">0</text>
<text x="350" y="426.1" text-anchor="middle" class="t">10</text>
<text x="377.5" y="426.1" text-anchor="middle" class="t">20</text>
<text x="405" y="426.1" text-anchor="middle" class="t">30</text>
<text x="432.5" y="426.1" text-anchor="middle" class="t">40</text>
<text x="460" y="426.1" text-anchor="middle" class="t">50</text>
<text x="487.5" y="426.1" text-anchor="middle" class="t">60</text>
<text x="515" y="426.1" text-anchor="middle" class="t">70</text>
<text x="542.5" y="426.1" text-anchor="middle" class="t">80</text>
<text x="320.2" y="245.3" text-anchor="end" class="t">20</text>
<text x="320.2" y="267.05" text-anchor="end" class="t">15</text>
<text x="320.2" y="288.8" text-anchor="end" class="t">10</text>
<text x="320.2" y="310.55" text-anchor="end" class="t">5</text>
<text x="320.2" y="332.3" text-anchor="end" class="t">0</text>
<text x="320.2" y="354.05" text-anchor="end" class="t">-5</text>
<text x="320.2" y="375.8" text-anchor="end" class="t">-10</text>
<text x="320.2" y="397.55" text-anchor="end" class="t">-15</text>
<text x="320.2" y="419.3" text-anchor="end" class="t">-20</text>
<text x="432.5" y="435.1" text-anchor="middle" style="font-size:7.8px">Times(<tspan font-style="italic">μ</tspan>s)</text>
<text transform="translate(308.2,329.5) rotate(-90)" text-anchor="middle" style="font-size:7.5px">Amplitude(mV)</text>
<text x="427.5" y="461.1" text-anchor="middle" style="font-size:12.3px;fill:#000">(<tspan font-weight="bold">d</tspan>)</text>
</svg></body></html>
